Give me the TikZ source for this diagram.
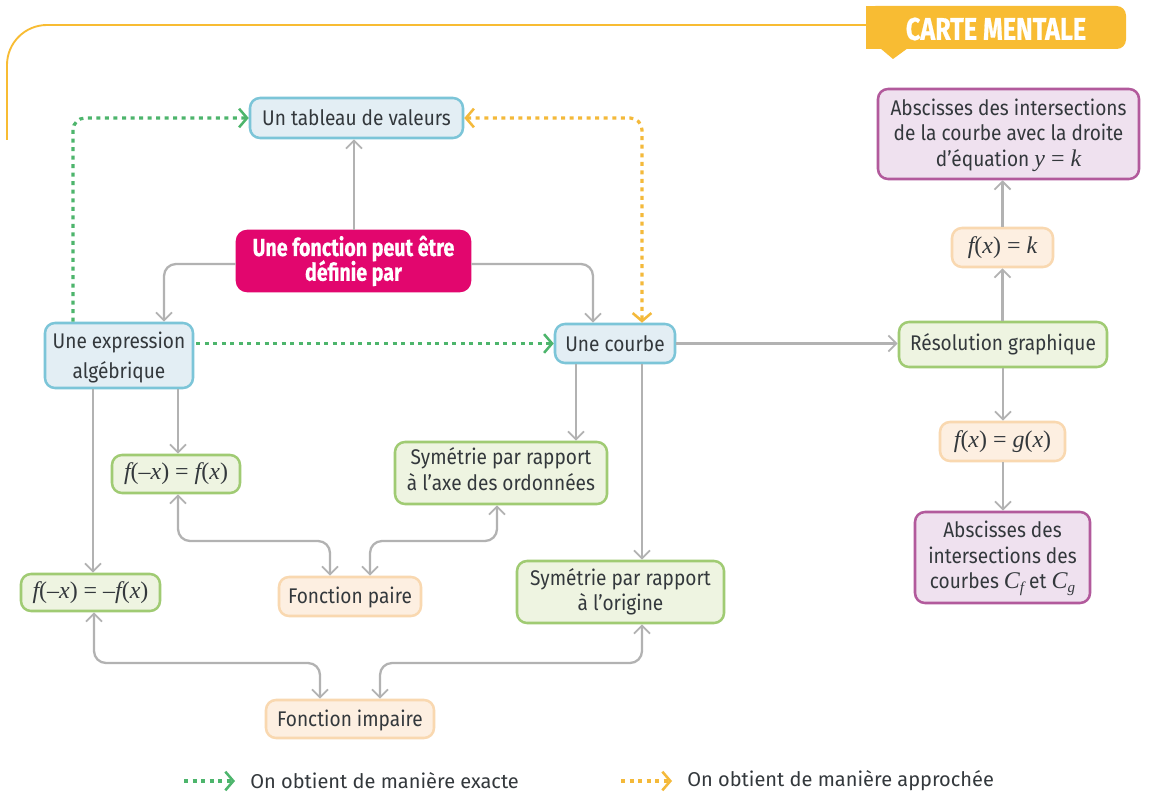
\documentclass[tikz,border=0pt]{standalone}
\usepackage{fontspec}
\setmainfont{Fira Sans}[FakeStretch=0.9]
\newfontfamily\titlefont{Fira Sans}[FakeStretch=0.8,UprightFont=*-Bold,FakeBold=0.6]
\newfontfamily\legfont{Fira Sans}
\newfontfamily\mathserif{Liberation Serif}[Scale=1.13]
\usetikzlibrary{arrows.meta,calc}
\definecolor{txt}{HTML}{33383C}
\definecolor{bluel}{HTML}{7CC5D8}\definecolor{bluef}{HTML}{E3EEF4}
\definecolor{greenl}{HTML}{A0CB73}\definecolor{greenf}{HTML}{EEF4E1}
\definecolor{orl}{HTML}{F9D8B0}\definecolor{orf}{HTML}{FDEFE1}
\definecolor{purl}{HTML}{B25A9C}\definecolor{purf}{HTML}{EFE1EF}
\definecolor{magenta1}{HTML}{E2066E}
\definecolor{grayl}{HTML}{B2B2B2}
\definecolor{yell}{HTML}{F8BC33}
\definecolor{gdot}{HTML}{4DB56C}
\definecolor{odot}{HTML}{F4B93A}
\newcommand{\mi}[1]{{\mathserif\itshape #1}}
\newcommand{\mr}[1]{{\mathserif #1}}
\newcommand{\tightlines}{\lineskiplimit-6pt\relax}
\newcommand{\boxn}[7]{\node[#6,minimum width={(#4-#2)*0.75pt},minimum height={(#5-#3)*0.75pt}] (#1) at ({(#2+#4)/2},{(#3+#5)/2}) {#7};}
\tikzset{
 x=0.75pt,y=-0.75pt,
 basebox/.style={draw,rounded corners=7.5pt,line width=1.9pt,align=center,inner sep=0pt,text=txt,font=\fontsize{15.9}{19}\selectfont\tightlines},
 bluebox/.style={basebox,draw=bluel,fill=bluef},
 greenbox/.style={basebox,draw=greenl,fill=greenf},
 orbox/.style={basebox,draw=orl,fill=orf},
 purbox/.style={basebox,draw=purl,fill=purf},
 mainbox/.style={basebox,draw=magenta1,fill=magenta1,text=white,font=\titlefont\fontsize{18.4}{18.6}\selectfont\tightlines},
 arr/.style={draw=grayl,line width=1.7pt,-{Straight Barb[length=6pt,width=12pt,line width=1.4pt]}},
 biarr/.style={arr,rounded corners=9pt,{Straight Barb[length=6pt,width=12pt,line width=1.4pt]}-{Straight Barb[length=6pt,width=12pt,line width=1.4pt]}},
 elbow/.style={arr,rounded corners=9pt},
 gdash/.style={draw=gdot,line width=2.4pt,dash pattern=on 3pt off 3.4pt,rounded corners=9pt,-{Straight Barb[length=6pt,width=14pt,line width=1.9pt]}},
 odash/.style={draw=odot,line width=2.4pt,dash pattern=on 3pt off 3.4pt,rounded corners=9pt,{Straight Barb[length=6pt,width=14pt,line width=1.9pt]}-{Straight Barb[length=6pt,width=14pt,line width=1.9pt]}},
 odashone/.style={draw=odot,line width=2.4pt,dash pattern=on 3pt off 3.4pt,-{Straight Barb[length=6pt,width=14pt,line width=1.9pt]}},
 legtext/.style={text=txt,anchor=west,inner sep=0pt,font=\legfont\fontsize{15}{16}\selectfont},
 lowtext/.style={text height=15pt,text depth=4pt},
}
\begin{document}
\begin{tikzpicture}
\useasboundingbox (0,0) rectangle (1156,798);
\fill[white] (0,0) rectangle (1156,798);
% header
\coordinate (hstart) at (7,140);
\coordinate (hcorner) at (7,25);
\fill[yell,rounded corners=7pt] (866,6) -- (1126,6) -- (1126,49) -- (866,49) -- cycle;
\fill[yell] (866,6) rectangle (880,49);
\fill[yell] (880,48) -- (908,48) -- (893,59) -- cycle;
\node[inner sep=0pt,text=white,font=\titlefont\fontsize{23.6}{24}\selectfont] (title) at (996,29) {CARTE MENTALE};
\draw[yell,line width=1.4pt,rounded corners=30pt] (hstart) -- (hcorner) -- (866,25);
% nodes
\boxn{tab}{250}{98}{463}{138}{bluebox}{Un tableau de valeurs}
\boxn{fonc}{237}{231}{470}{291}{mainbox}{Une fonction peut être\\définie par}
\boxn{expr}{45}{323}{193}{388}{bluebox,font=\fontsize{15.9}{22.5}\selectfont}{\rule{0pt}{15pt}Une expression\\algébrique}
\boxn{courbe}{555}{324}{675}{363}{bluebox}{Une courbe}
\boxn{resol}{899}{322}{1107}{367}{greenbox}{Résolution graphique}
\boxn{fk}{952}{228}{1053}{267}{orbox}{\mi{f}\mr{(}\mi{x}\mr{) = }\mi{k}}
\boxn{absa}{878}{89}{1139}{179}{purbox}{\rule{0pt}{14pt}Abscisses des intersections\\de la courbe avec la droite\\d’équation \mi{y}\mr{ = }\mi{k}}
\boxn{fg}{940}{422}{1065}{461}{orbox}{\mi{f}\mr{(}\mi{x}\mr{) = }\mi{g}\mr{(}\mi{x}\mr{)}}
\boxn{absb}{915}{512}{1090}{603}{purbox}{\rule{0pt}{14pt}Abscisses des\\intersections des\\courbes \mi{C}\raisebox{-3pt}{\fontsize{10}{10}\selectfont\mi{f}} et \mi{C}\raisebox{-3pt}{\fontsize{10}{10}\selectfont\mi{g}}}
\boxn{fpair}{112}{455}{240}{493}{greenbox}{\mi{f}\mr{(–}\mi{x}\mr{) = }\mi{f}\mr{(}\mi{x}\mr{)}}
\boxn{fimp}{21}{574}{160}{611}{greenbox}{\mi{f}\mr{(–}\mi{x}\mr{) = –}\mi{f}\mr{(}\mi{x}\mr{)}}
\boxn{paire}{279}{577}{421}{616}{orbox,lowtext}{Fonction paire}
\boxn{impaire}{266}{700}{434}{738}{orbox,lowtext}{Fonction impaire}
\boxn{syma}{395}{442}{607}{504}{greenbox}{Symétrie par rapport\\à l’axe des ordonnées\rule[-6pt]{0pt}{6pt}}
\boxn{symb}{517}{561}{724}{623}{greenbox}{Symétrie par rapport\\à l’origine}
% routing points
\coordinate (lftop) at (164,264);
\coordinate (rttop) at (593,264);
\coordinate (gtop) at (73,118);
\coordinate (otop) at (642,118);
\coordinate (pl1) at (178,541);
\coordinate (pl2) at (330,541);
\coordinate (pr1) at (370,541);
\coordinate (pr2) at (497,541);
\coordinate (il1) at (94,663);
\coordinate (il2) at (320,663);
\coordinate (ir1) at (380,663);
\coordinate (ir2) at (642,663);
\coordinate (ex1) at (93,400);
\coordinate (ex2) at (178,400);
\coordinate (co1) at (576,400);
\coordinate (co2) at (642,400);
% grey connectors
\draw[arr] (fonc.north -| tab.south) ++(-2.5,0) coordinate (ft) -- (ft |- tab.south);
\draw[elbow] (fonc.west |- lftop) -- (lftop) -- (lftop |- expr.north);
\draw[elbow] (fonc.east |- rttop) -- (rttop) -- (rttop |- courbe.north);
\draw[arr] (courbe.east) -- (courbe.east -| resol.west);
\draw[arr] (resol.north -| fk.south) ++(0,0) coordinate (rn) -- (rn |- fk.south);
\draw[arr] (fk.north) -- (fk.north |- absa.south);
\draw[arr] (resol.south) -- (resol.south |- fg.north);
\draw[arr] (resol.south |- fg.south) -- (resol.south |- absb.north);
\draw[arr] (ex1 |- expr.south) -- (ex1 |- fimp.north);
\draw[arr] (ex2 |- expr.south) -- (ex2 |- fpair.north);
\draw[arr] (co1 |- courbe.south) -- (co1 |- syma.north);
\draw[arr] (co2 |- courbe.south) -- (co2 |- symb.north);
\draw[biarr] (pl1 |- fpair.south) -- (pl1) -- (pl2) -- (pl2 |- paire.north);
\draw[biarr] (pr2 |- syma.south) -- (pr2) -- (pr1) -- (pr1 |- paire.north);
\draw[biarr] (il1 |- fimp.south) -- (il1) -- (il2) -- (il2 |- impaire.north);
\draw[biarr] (ir2 |- symb.south) -- (ir2) -- (ir1) -- (ir1 |- impaire.north);
% dotted connectors
\draw[gdash] (gtop |- expr.north) -- (gtop) -- (tab.west);
\draw[gdash] (expr.east |- courbe.west) ++(2,0) coordinate (eg) -- (courbe.west);
\draw[odash] (tab.east) -- (otop) -- (otop |- courbe.north);
% legend
\coordinate (g1) at (184,781);
\coordinate (o1) at (621,781);
\node[legtext] (lega) at (250,781) {On obtient de manière exacte};
\node[legtext] (legb) at (687,781) {On obtient de manière approchée};
\draw[gdash] (g1) -- ($(lega.west)+(-15,0)$);
\draw[odashone] (o1) -- ($(legb.west)+(-15,0)$);
\end{tikzpicture}
\end{document}
